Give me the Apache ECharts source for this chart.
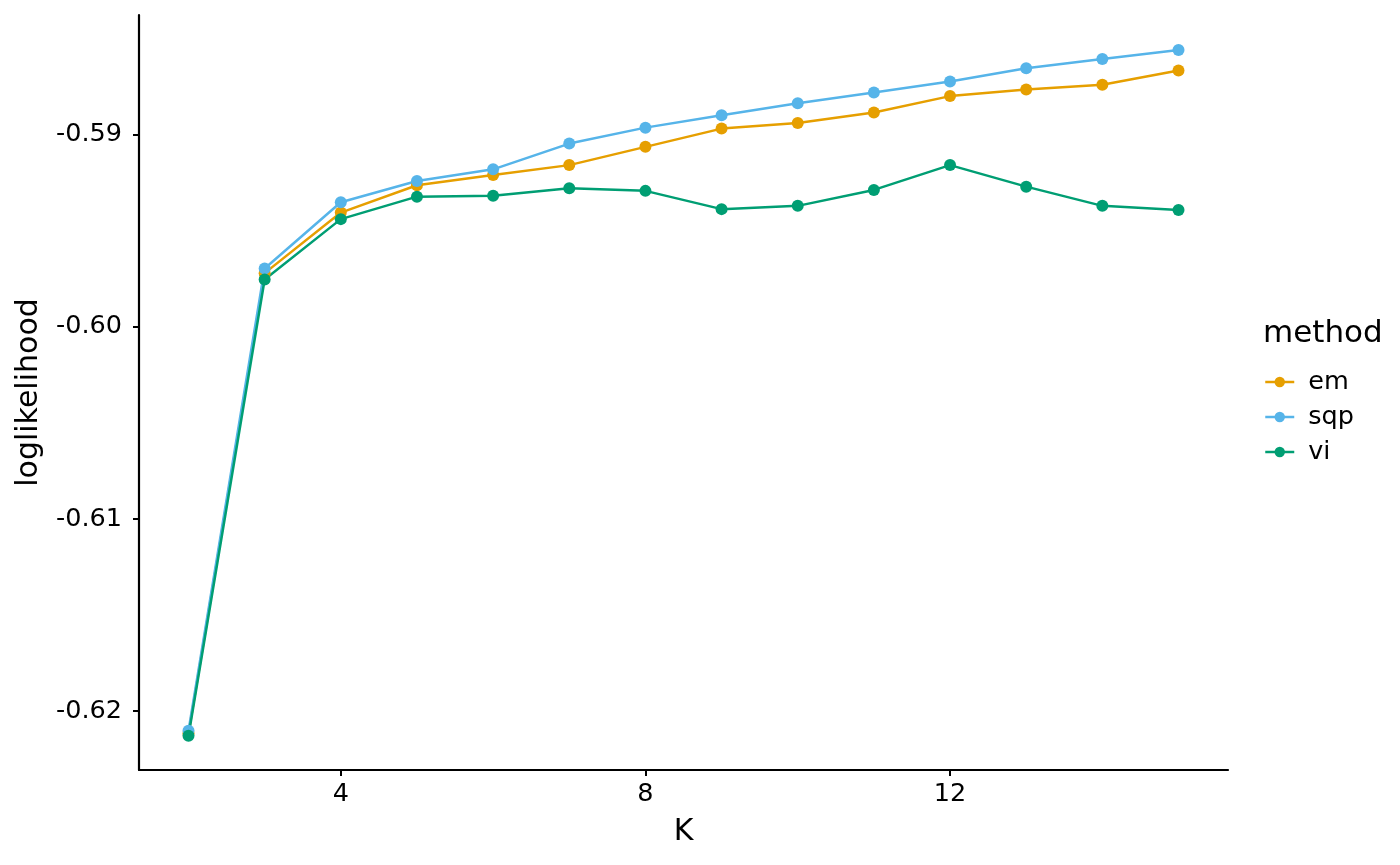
<!DOCTYPE html>
<html>
<head>
<meta charset="utf-8">
<script src="https://cdn.jsdelivr.net/npm/echarts@6/dist/echarts.min.js"></script>
<style>
  html, body { margin: 0; padding: 0; background: #fff; }
  #chart { width: 1400px; height: 865px; }
</style>
</head>
<body>
<div id="chart"></div>
<script>
// K values and loglikelihood per method
const kValues = [2, 3, 4, 5, 6, 7, 8, 9, 10, 11, 12, 13, 14, 15];
const emLL  = [-0.62115, -0.59721, -0.59406, -0.59264, -0.59211, -0.59159, -0.59064, -0.58969, -0.58940, -0.58885, -0.58800, -0.58766, -0.58741, -0.58667];
const sqpLL = [-0.62102, -0.59697, -0.59352, -0.59242, -0.59181, -0.59047, -0.58964, -0.58900, -0.58837, -0.58781, -0.58724, -0.58655, -0.58607, -0.58560];
const viLL  = [-0.62128, -0.59754, -0.59440, -0.59323, -0.59318, -0.59279, -0.59293, -0.59388, -0.59371, -0.59288, -0.59159, -0.59271, -0.59371, -0.59392];

const methods = ['em', 'sqp', 'vi'];
const methodColors = ['#E69F00', '#56B4E9', '#009E73'];
const xTicks = [4, 8, 12];
const yTicks = [-0.62, -0.61, -0.60, -0.59];

const font = 'DejaVu Sans';

function pairs(ys) {
    return kValues.map(function (k, i) { return [k, ys[i]]; });
}

const chart = echarts.init(document.getElementById('chart'));

chart.setOption({
    animation: false,
    backgroundColor: '#fff',
    textStyle: { fontFamily: font },
    title: {
        text: 'method',
        left: 1258,
        top: 313,
        textStyle: { fontFamily: font, fontSize: 31, fontWeight: 'normal', color: '#000' }
    },
    legend: {
        orient: 'vertical',
        left: 1259,
        top: 364,
        itemWidth: 29,
        itemHeight: 13,
        itemGap: 9,
        data: methods,
        lineStyle: { width: 2.5 },
        textStyle: { fontFamily: font, fontSize: 25.5, color: '#000', padding: [0, 0, 0, 9] }
    },
    grid: { left: 139, right: 172, top: 15, bottom: 95 },
    xAxis: {
        type: 'value',
        min: 1.35,
        max: 15.65,
        name: 'K',
        nameLocation: 'middle',
        nameGap: 47,
        nameTextStyle: { fontFamily: font, fontSize: 30, color: '#000' },
        axisLine: { show: true, lineStyle: { color: '#000', width: 2.2 } },
        axisTick: { show: true, length: 6, customValues: xTicks, lineStyle: { color: '#000', width: 2 } },
        axisLabel: { customValues: xTicks, margin: 11, fontFamily: font, fontSize: 25.5, color: '#000' },
        splitLine: { show: false }
    },
    yAxis: {
        type: 'value',
        min: -0.62306,
        max: -0.58378,
        name: 'loglikelihood',
        nameLocation: 'middle',
        nameRotate: 90,
        nameGap: 95,
        nameTextStyle: { fontFamily: font, fontSize: 30, color: '#000' },
        axisLine: { show: true, lineStyle: { color: '#000', width: 2.2 } },
        axisTick: { show: true, length: 6, customValues: yTicks, lineStyle: { color: '#000', width: 2 } },
        axisLabel: {
            customValues: yTicks,
            margin: 17,
            fontFamily: font,
            fontSize: 25.5,
            color: '#000',
            formatter: function (v) { return v.toFixed(2); }
        },
        splitLine: { show: false }
    },
    series: [emLL, sqpLL, viLL].map(function (ys, i) {
        return {
            name: methods[i],
            type: 'line',
            data: pairs(ys),
            symbol: 'circle',
            symbolSize: 12,
            itemStyle: { color: methodColors[i] },
            lineStyle: { color: methodColors[i], width: 2.5 },
            emphasis: { disabled: true }
        };
    })
});
</script>
</body>
</html>
